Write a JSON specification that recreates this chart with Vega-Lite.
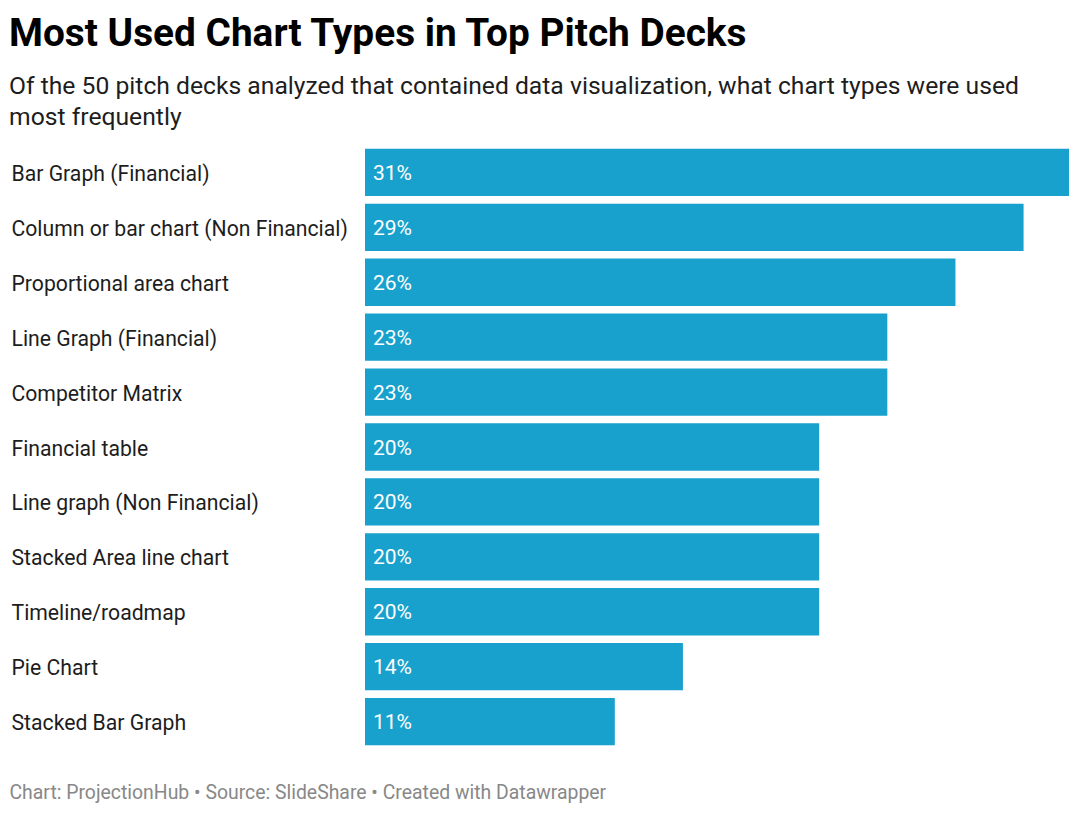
{
  "$schema": "https://vega.github.io/schema/vega-lite/v6.json",
  "autosize": "none",
  "width": 704,
  "height": 604,
  "padding": {"left": 365, "top": 145, "right": 11, "bottom": 64},
  "background": "white",
  "title": {
    "text": "Most Used Chart Types in Top Pitch Decks",
    "subtitle": ["Of the 50 pitch decks analyzed that contained data visualization, what chart types were used", "most frequently"],
    "anchor": "start",
    "frame": "group",
    "dx": -356,
    "font": "Roboto",
    "fontSize": 38.8,
    "fontWeight": "bold",
    "color": "#000000",
    "subtitleFont": "Roboto",
    "subtitleFontSize": 24.7,
    "subtitleColor": "#1d1d1d",
    "subtitleLineHeight": 31,
    "subtitlePadding": 21,
    "offset": 15
  },
  "config": {"view": {"stroke": null}, "font": "Roboto"},
  "data": {
    "values": [
      {"type": "Bar Graph (Financial)", "share": 0.31},
      {"type": "Column or bar chart (Non Financial)", "share": 0.29},
      {"type": "Proportional area chart", "share": 0.26},
      {"type": "Line Graph (Financial)", "share": 0.23},
      {"type": "Competitor Matrix", "share": 0.23},
      {"type": "Financial table", "share": 0.20},
      {"type": "Line graph (Non Financial)", "share": 0.20},
      {"type": "Stacked Area line chart", "share": 0.20},
      {"type": "Timeline/roadmap", "share": 0.20},
      {"type": "Pie Chart", "share": 0.14},
      {"type": "Stacked Bar Graph", "share": 0.11}
    ]
  },
  "encoding": {
    "y": {
      "field": "type",
      "type": "nominal",
      "sort": null,
      "scale": {"paddingInner": 0.138, "paddingOuter": 0.069},
      "axis": {
        "title": null,
        "domain": false,
        "ticks": false,
        "labelAlign": "left",
        "labelPadding": 354,
        "labelFontSize": 21.2,
        "labelFont": "Roboto",
        "labelColor": "#1d1d1d",
        "labelLimit": 400,
        "labelOffset": 2.5
      }
    }
  },
  "layer": [
    {
      "mark": {"type": "bar", "color": "#18a1cd"},
      "encoding": {
        "x": {
          "field": "share",
          "type": "quantitative",
          "scale": {"domain": [0, 0.31], "nice": false},
          "axis": {
            "title": "Chart: ProjectionHub • Source: SlideShare • Created with Datawrapper",
            "domain": false,
            "ticks": false,
            "labels": false,
            "grid": false,
            "titleAnchor": "start",
            "titleAlign": "left",
            "titleX": -356,
            "titleY": 49,
            "titleBaseline": "alphabetic",
            "titleFont": "Roboto",
            "titleFontSize": 19.4,
            "titleFontWeight": "normal",
            "titleColor": "#888888"
          }
        }
      }
    },
    {
      "mark": {"type": "text", "align": "left", "dx": 8, "dy": 1.5, "color": "white", "fontSize": 21, "font": "Roboto"},
      "encoding": {
        "x": {"datum": 0},
        "text": {"field": "share", "type": "quantitative", "format": ".0%"}
      }
    }
  ]
}
